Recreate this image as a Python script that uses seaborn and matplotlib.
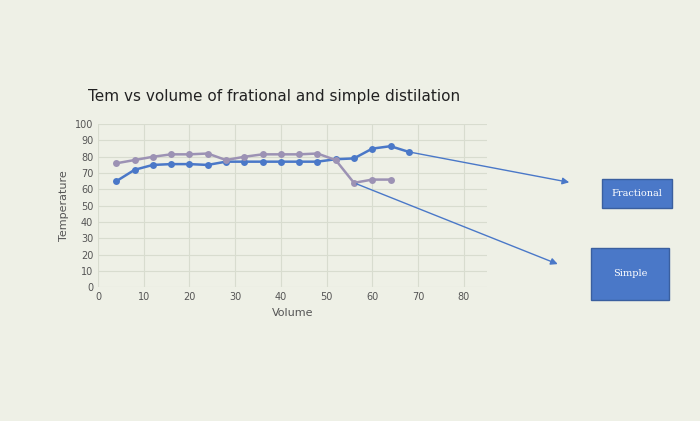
import matplotlib
matplotlib.use("Agg")
import matplotlib.pyplot as plt
import seaborn as sns
import pandas as pd

# values
frac_vol = [4, 8, 12, 16, 20, 24, 28, 32, 36, 40, 44, 48, 52, 56, 60, 64, 68]
frac_temp = [65, 72, 75, 75.5, 75.5, 75, 77, 77, 77, 77, 77, 77, 78.5, 79, 85, 86.5, 83]
simp_vol = [4, 8, 12, 16, 20, 24, 28, 32, 36, 40, 44, 48, 52, 56, 60, 64]
simp_temp = [76, 78, 80, 81.5, 81.5, 82, 78, 80, 81.5, 81.5, 81.5, 82, 78, 64, 66, 66]

df = pd.concat([
    pd.DataFrame({"Volume": frac_vol, "Temperature": frac_temp, "series": "Fractional"}),
    pd.DataFrame({"Volume": simp_vol, "Temperature": simp_temp, "series": "Simple"}),
])

sns.set_style("whitegrid")
fig = plt.figure(figsize=(7, 4.21), dpi=100)
fig.patch.set_facecolor("#eef0e6")
ax = fig.add_axes([0.14, 0.318, 0.555, 0.387])
ax.set_facecolor("#eef0e6")

palette = {"Fractional": "#4a78c8", "Simple": "#9c92b4"}
sns.lineplot(data=df, x="Volume", y="Temperature", hue="series", palette=palette,
             marker="o", markersize=5, markeredgewidth=0, linewidth=1.8, legend=False, ax=ax)

ax.set_xlim(0, 85)
ax.set_ylim(0, 100)
ax.set_xticks(range(0, 81, 10))
ax.set_yticks(range(0, 101, 10))
ax.tick_params(labelsize=7, colors="#555555", length=0)
ax.grid(color="#d8dccf", linewidth=0.8)
for s in ax.spines.values():
    s.set_visible(False)
ax.set_xlabel("Volume", fontsize=8, color="#555555")
ax.set_ylabel("Temperature", fontsize=8, color="#555555")
fig.text(0.125, 0.76, "Tem vs volume of frational and simple distilation", fontsize=11, color="#222222")

# annotation arrows and boxes
ax.annotate("", xy=(1.22, 0.64), xycoords="axes fraction",
            xytext=(frac_vol[-1], frac_temp[-1]), textcoords="data",
            arrowprops=dict(arrowstyle="-|>", color="#4a78c8", lw=1))
ax.annotate("", xy=(1.19, 0.135), xycoords="axes fraction",
            xytext=(simp_vol[-3], simp_temp[-3]), textcoords="data",
            arrowprops=dict(arrowstyle="-|>", color="#4a78c8", lw=1))
fig.text(0.91, 0.54, "Fractional", fontsize=7, color="white", family="serif", ha="center", va="center",
         bbox=dict(boxstyle="square,pad=1.0", fc="#4a78c8", ec="#3a5f9f"))
fig.text(0.90, 0.35, "Simple", fontsize=7, color="white", family="serif", ha="center", va="center",
         bbox=dict(boxstyle="square,pad=2.2", fc="#4a78c8", ec="#3a5f9f"))

fig.savefig("out.png", dpi=100, facecolor=fig.get_facecolor())
